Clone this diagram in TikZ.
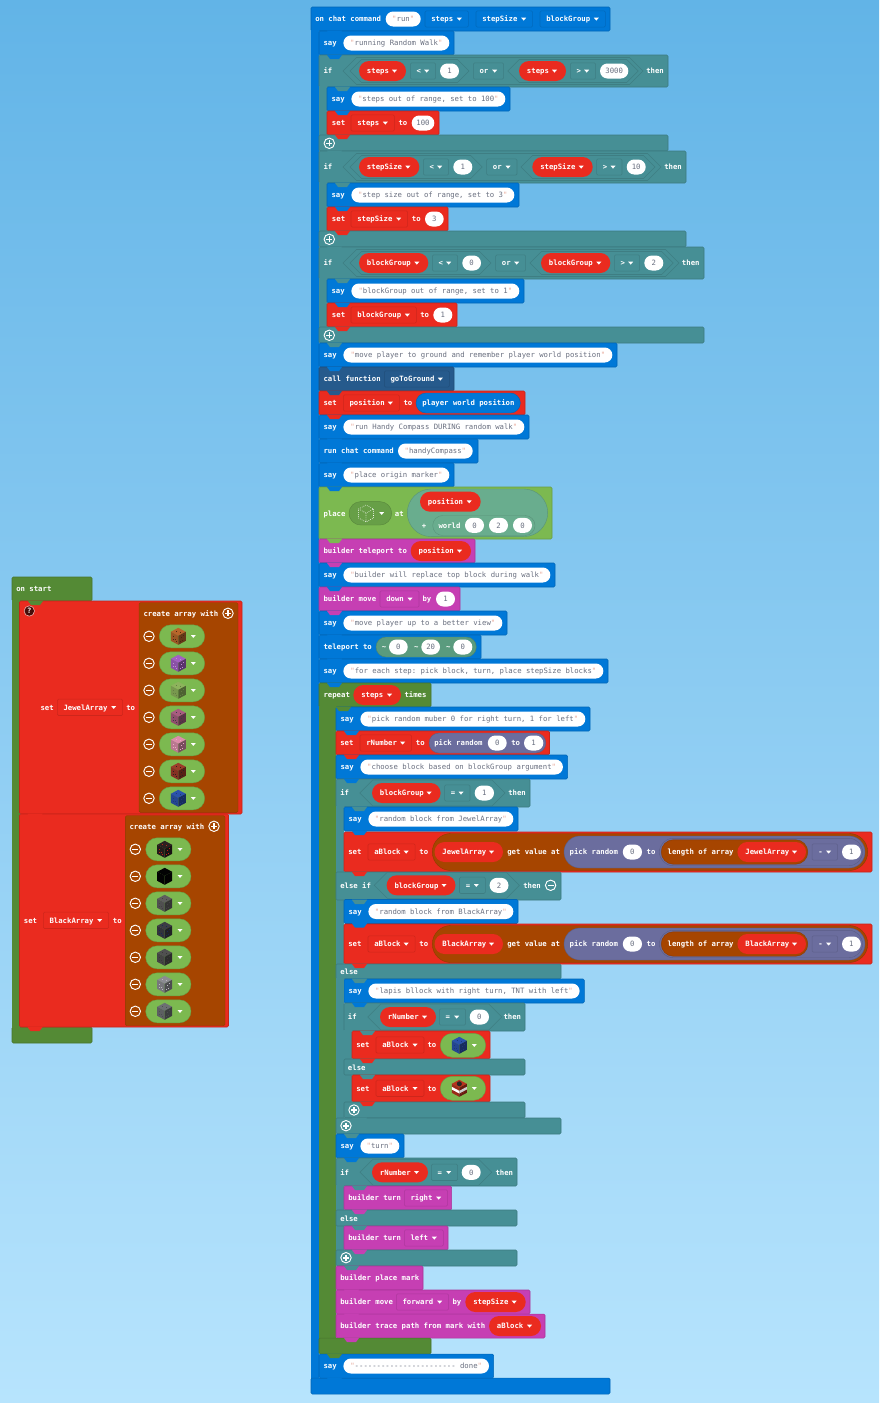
\documentclass[tikz,border=0pt]{standalone}
\usepackage{fontspec}
\setmonofont{DejaVu Sans Mono}
\pgfdeclarelayer{tabs}
\pgfsetlayers{main,tabs}
\definecolor{bgtop}{HTML}{62B4E7}
\definecolor{bgbot}{HTML}{B7E4FD}
\definecolor{cblue}{HTML}{0078D7}
\definecolor{cdark}{HTML}{265A8C}
\definecolor{cteal}{HTML}{468F95}
\definecolor{cred}{HTML}{EA2B1F}
\definecolor{cplace}{HTML}{7CB950}
\definecolor{cdice}{HTML}{679F47}
\definecolor{cgreen}{HTML}{548A35}
\definecolor{cbuild}{HTML}{C63FB3}
\definecolor{cbrown}{HTML}{A64500}
\definecolor{cpick}{HTML}{6B6D9E}
\definecolor{cadd}{HTML}{69AD8E}
\definecolor{cpos}{HTML}{5A9B7E}
\definecolor{cword}{HTML}{6A7080}
\definecolor{cquote}{HTML}{E8A898}
\definecolor{jA}{HTML}{B8652B}
\definecolor{jB}{HTML}{A35FC4}
\definecolor{jC}{HTML}{8DB35C}
\definecolor{jD}{HTML}{A85C80}
\definecolor{jE}{HTML}{DC8CAB}
\definecolor{jF}{HTML}{9C3B29}
\definecolor{jG}{HTML}{2A52AC}
\definecolor{bA}{HTML}{2B2020}
\definecolor{bB}{HTML}{030303}
\definecolor{bC}{HTML}{5E5E5E}
\definecolor{bD}{HTML}{3C3C44}
\definecolor{bE}{HTML}{505050}
\definecolor{bF}{HTML}{8C8C92}
\definecolor{bG}{HTML}{6C7072}
\definecolor{ctnt}{HTML}{B8331E}
\tikzset{
  lbl/.style={anchor=west,inner sep=0pt,text=white,text height=5.2pt,text depth=1pt,
    font=\ttfamily\bfseries\fontsize{5.47}{7}\selectfont},
  txt/.style={inner sep=0pt,text=cword,text height=5.2pt,text depth=1pt,
    font=\ttfamily\fontsize{5.47}{7}\selectfont}
}
\newcommand{\blk}[6][8]{%
  \filldraw[fill=#6,draw=#6!85!black,line width=.4pt,rounded corners=1pt] (#2,#3) rectangle (#4,#5);
  \begin{pgfonlayer}{tabs}
    \fill[#6] (#2+#1,#5-.5) -- (#2+#1,#5) -- ++(3,4) -- ++(9,0) -- ++(3,-4) -- ++(0,-.5) -- cycle;
  \end{pgfonlayer}}
\newcommand{\spine}[5]{\fill[#5] (#1,#3-.6) rectangle (#2,#4+.6);}
\newcommand{\pillb}[5]{%
  \filldraw[fill=#5,draw=#5!85!black,line width=.3pt,rounded corners=#4*.75pt] (#1,#3-#4) rectangle (#2,#3+#4);}
\newcommand{\arrowd}[2]{\fill[white] (#1-2.5,#2-1.3) -- (#1+2.5,#2-1.3) -- (#1,#2+1.6) -- cycle;}
\newcommand{\strp}[4]{%
  \fill[white,rounded corners=5.6pt] (#1,#3-7.5) rectangle (#2,#3+7.5);
  \node[txt] at ({(#1+#2)/2},#3) {{\color{cquote}"}#4{\color{cquote}"}};}
\newcommand{\nump}[4]{%
  \fill[white,rounded corners=5.6pt] (#1,#3-7.5) rectangle (#2,#3+7.5);
  \node[txt] at ({(#1+#2)/2},#3) {#4};}
\newcommand{\varp}[4]{%
  \fill[cred,rounded corners=7.5pt] (#1,#3-10) rectangle (#2,#3+10);
  \node[lbl] at (#1+7.7,#3) {#4};
  \arrowd{#2-11.5}{#3}}
\newcommand{\drop}[5]{%
  \filldraw[fill=#5,draw=#5!88!black,line width=.4pt,rounded corners=1pt] (#1,#3-8.2) rectangle (#2,#3+8.2);
  \node[lbl] at (#1+6,#3) {#4};
  \arrowd{#2-9}{#3}}
\newcommand{\hexa}[4]{%
  \filldraw[fill=cteal,draw=cteal!88!black,line width=.4pt] (#1,#3) -- (#1+#4,#3-#4) -- (#2-#4,#3-#4)
    -- (#2,#3) -- (#2-#4,#3+#4) -- (#1+#4,#3+#4) -- cycle;}
\newcommand{\plusc}[2]{%
  \draw[white,line width=.7pt] (#1,#2) circle (5.2);
  \draw[white,line width=1.2pt] (#1-3,#2) -- (#1+3,#2) (#1,#2-3) -- (#1,#2+3);}
\newcommand{\minusc}[2]{%
  \draw[white,line width=.7pt] (#1,#2) circle (5.2);
  \draw[white,line width=1.2pt] (#1-3,#2) -- (#1+3,#2);}
\newcommand{\cube}[4]{%
  \fill[#3] (#1,#2-8.5) -- (#1+7.5,#2-4.5) -- (#1,#2-.5) -- (#1-7.5,#2-4.5) -- cycle;
  \fill[#3!85!black] (#1-7.5,#2-4.5) -- (#1,#2-.5) -- (#1,#2+8.5) -- (#1-7.5,#2+4.5) -- cycle;
  \fill[#3!55!black] (#1+7.5,#2-4.5) -- (#1,#2-.5) -- (#1,#2+8.5) -- (#1+7.5,#2+4.5) -- cycle;
  \foreach \dx/\dy in {-2/-5,2/-4,-5/0,-3/3,-5/3,-2/5,3/1,5/-1,4/4,2/5}
    \fill[#4] (#1+\dx-.5,#2+\dy-.5) rectangle ++(1,1);}
\newcommand{\saybk}[4]{%
  \blk{#1}{#2}{#3}{#2+24}{cblue}
  \node[lbl] at (#1+4.3,#2+12) {say};
  \strp{#1+24.4}{#3-4.7}{#2+12}{#4}}
\newcommand{\aryset}[2]{%
  \blk{344}{#1}{872}{#1+40}{cred}
  \node[lbl] at (348,#1+20) {set};
  \drop{368}{415.2}{#1+20}{aBlock}{cred}
  \node[lbl] at (419.2,#1+20) {to};
  \pillb{432.3}{867.7}{#1+20}{18.5}{cbrown}
  \varp{434.5}{503}{#1+20}{#2}
  \node[lbl] at (507,#1+20) {get value at};
  \pillb{564}{865}{#1+20}{16}{cpick}
  \node[lbl] at (569.4,#1+20) {pick random};
  \nump{622.8}{642}{#1+20}{0}
  \node[lbl] at (646.4,#1+20) {to};
  \pillb{659.4}{862.6}{#1+20}{13.7}{cpick}
  \pillb{661.2}{807.8}{#1+20}{12.2}{cbrown}
  \node[lbl] at (667.4,#1+20) {length of array};
  \varp{737.4}{806}{#1+20}{#2}
  \drop{812.2}{837.6}{#1+20}{-}{cpick}
  \nump{842}{860.8}{#1+20}{1}}
\begin{document}
\begin{tikzpicture}[x=.75pt,y=-.75pt]
  \shade[top color=bgtop,bottom color=bgbot] (0,0) rectangle (879,1403);
  \useasboundingbox (0,0) rectangle (879,1403);

  % on start
  \blk[16]{12}{577}{92}{601}{cgreen}
  \node[lbl] at (16,589) {on start};
  \filldraw[fill=cgreen,draw=cgreen!85!black,line width=.4pt,rounded corners=1pt] (12,1027) rectangle (92,1043);
  \spine{12}{19.5}{601}{1027}{cgreen}
  \blk{19.5}{601}{242}{814}{cred}
  \filldraw[fill=cbrown,draw=cbrown!85!black,line width=.3pt,rounded corners=1pt] (139,602.7) rectangle (238,812.3);
  \filldraw[fill=black!70!cred,draw=white!70!cred,line width=.4pt] (29.3,611) circle (5.2);
  \node[lbl,anchor=center] at (29.3,611) {?};
  \node[lbl] at (40.3,707.3) {set};
  \drop{57.3}{122.7}{707.3}{JewelArray}{cred}
  \node[lbl] at (126,707.3) {to};
  \node[lbl] at (143.3,613.3) {create array with};
  \plusc{228}{613.3}
  \foreach \y/\c/\s in {636.3/jA/black!60!jA,663.3/jB/jB!70!white,690.3/jC/jC!70!black,717.3/jD/bD,
      744.3/jE/jE!70!white,771.3/jF/bA,798.3/jG/jG!70!black}{
    \minusc{149}{\y}
    \pillb{159.3}{204.7}{\y}{11.5}{cplace}
    \cube{178.3}{\y}{\c}{\s}
    \arrowd{193.3}{\y}
  }
  \blk{19.5}{814}{228.5}{1027}{cred}
  \filldraw[fill=cbrown,draw=cbrown!85!black,line width=.3pt,rounded corners=1pt] (125.3,815.7) rectangle (225,1025.7);
  \node[lbl] at (23.7,920.3) {set};
  \drop{43.3}{108.7}{920.3}{BlackArray}{cred}
  \node[lbl] at (112.7,920.3) {to};
  \node[lbl] at (129.3,826.3) {create array with};
  \plusc{214}{826.3}
  \foreach \y/\c/\s in {849.3/bA/cred!80!black,876.3/bB/bB,903.3/bC/bC!70!black,930.3/bD/jG!50!black,
      957.3/bE/bE!70!black,984.3/bF/bF!60!white,1011.3/bG/bG!70!black}{
    \minusc{135.3}{\y}
    \pillb{145.7}{191}{\y}{11.5}{cplace}
    \cube{164.7}{\y}{\c}{\s}
    \arrowd{180}{\y}
  }

  % on chat command
  \blk[16]{311}{7}{610}{31}{cblue}
  \spine{311}{319}{31}{1378}{cblue}
  \filldraw[fill=cblue,draw=cblue!85!black,line width=.4pt,rounded corners=1pt] (311,1378) rectangle (610,1394);
  \node[lbl] at (315,19) {on chat command};
  \strp{385.7}{420.7}{19}{run}
  \drop{425}{468.3}{19}{steps}{cblue}
  \drop{476}{532.7}{19}{stepSize}{cblue}
  \drop{540}{605.3}{19}{blockGroup}{cblue}
  \saybk{319}{31}{454}{running Random Walk}

  % range checks
  \blk[16]{319}{55}{668}{87}{cteal}
  \node[lbl] at (323.3,71) {if};
  \hexa{343}{643}{71}{13.5}
  \hexa{350}{469}{71}{11.5}
  \varp{359}{406}{71}{steps}
  \drop{410.3}{435.7}{71}{<}{cteal}
  \nump{440}{459}{71}{1}
  \drop{473.3}{503.7}{71}{or}{cteal}
  \hexa{507.7}{638.3}{71}{11.5}
  \varp{519}{566}{71}{steps}
  \drop{570.3}{595.7}{71}{>}{cteal}
  \nump{600}{628.3}{71}{3000}
  \node[lbl] at (646,71) {then};
  \spine{319}{327}{87}{135}{cteal}
  \saybk{327}{87}{510}{steps out of range, set to 100}
  \blk{327}{111}{439}{135}{cred}
  \node[lbl] at (331.7,123) {set};
  \drop{351}{394.3}{123}{steps}{cred}
  \node[lbl] at (398.3,123) {to};
  \nump{411.7}{434.3}{123}{100}
  \blk{319}{135}{668}{151}{cteal}
  \plusc{329.3}{143.3}

  \blk[16]{319}{151}{686}{183}{cteal}
  \node[lbl] at (323.3,167) {if};
  \hexa{343}{661}{167}{13.5}
  \hexa{350}{482.3}{167}{11.5}
  \varp{359}{419.3}{167}{stepSize}
  \drop{423.3}{448.7}{167}{<}{cteal}
  \nump{453.3}{472.3}{167}{1}
  \drop{486.7}{517}{167}{or}{cteal}
  \hexa{521}{655}{167}{11.5}
  \varp{532.3}{592.7}{167}{stepSize}
  \drop{596.7}{622}{167}{>}{cteal}
  \nump{626.7}{645.7}{167}{10}
  \node[lbl] at (664,167) {then};
  \spine{319}{327}{183}{231}{cteal}
  \saybk{327}{183}{519}{step size out of range, set to 3}
  \blk{327}{207}{448}{231}{cred}
  \node[lbl] at (331.7,219) {set};
  \drop{351}{407.7}{219}{stepSize}{cred}
  \node[lbl] at (411.7,219) {to};
  \nump{425}{443.7}{219}{3}
  \blk{319}{231}{686}{247}{cteal}
  \plusc{329.3}{239.3}

  \blk[16]{319}{247}{704}{279}{cteal}
  \node[lbl] at (323.3,263) {if};
  \hexa{343}{679}{263}{13.5}
  \hexa{350}{491}{263}{11.5}
  \varp{359}{428.3}{263}{blockGroup}
  \drop{432.3}{457.7}{263}{<}{cteal}
  \nump{462.3}{481}{263}{0}
  \drop{495.7}{525.7}{263}{or}{cteal}
  \hexa{530}{673.3}{263}{11.5}
  \varp{541}{610.3}{263}{blockGroup}
  \drop{614.3}{639.7}{263}{>}{cteal}
  \nump{644.3}{663.3}{263}{2}
  \node[lbl] at (681.7,263) {then};
  \spine{319}{327}{279}{327}{cteal}
  \saybk{327}{279}{524}{blockGroup out of range, set to 1}
  \blk{327}{303}{457}{327}{cred}
  \node[lbl] at (331.7,315) {set};
  \drop{351}{416.3}{315}{blockGroup}{cred}
  \node[lbl] at (420,315) {to};
  \nump{433.3}{452.3}{315}{1}
  \blk{319}{327}{704}{343}{cteal}
  \plusc{329.3}{335.3}

  % set up
  \saybk{319}{343}{617}{move player to ground and remember player world position}
  \blk{319}{367}{454}{391}{cdark}
  \node[lbl] at (323.3,379) {call function};
  \drop{384.3}{449.3}{379}{goToGround}{cdark}
  \blk{319}{391}{525}{415}{cred}
  \node[lbl] at (323.3,403) {set};
  \drop{343.3}{399.3}{403}{position}{cred}
  \node[lbl] at (403.3,403) {to};
  \pillb{416}{520.3}{403}{10}{cblue}
  \node[lbl] at (422,403) {player world position};
  \saybk{319}{415}{529}{run Handy Compass DURING random walk}
  \blk{319}{439}{478}{463}{cblue}
  \node[lbl] at (323.3,451) {run chat command};
  \strp{398}{472.7}{451}{handyCompass}
  \saybk{319}{463}{454}{place origin marker}
  \blk{319}{487}{552}{539}{cplace}
  \node[lbl] at (323.3,513.3) {place};
  \pillb{349}{391.7}{513.3}{11.7}{cdice}
  \draw[white,densely dotted,line width=.45pt] (358.5,509) -- (366,505) -- (373.5,509) -- (373.5,518) -- (366,522) -- (358.5,518) -- cycle
    (358.5,509) -- (366,513) -- (373.5,509) (366,513) -- (366,522);
  \arrowd{381.7}{513.3}
  \node[lbl] at (394.7,513.3) {at};
  \pillb{407.3}{547.7}{512.8}{23.8}{cadd}
  \varp{420}{480.7}{501.7}{position}
  \node[lbl] at (421.5,525.3) {+};
  \pillb{432.7}{535}{525.5}{10}{cadd}
  \node[lbl] at (438.3,525.3) {world};
  \nump{465}{484}{525.3}{0}
  \nump{489}{508}{525.3}{2}
  \nump{513}{532}{525.3}{0}
  \blk{319}{539}{475}{563}{cbuild}
  \node[lbl] at (323.3,551) {builder teleport to};
  \varp{410.7}{471}{551}{position}
  \saybk{319}{563}{555}{builder will replace top block during walk}
  \blk{319}{587}{460}{611}{cbuild}
  \node[lbl] at (323.3,599) {builder move};
  \drop{380}{419}{599}{down}{cbuild}
  \node[lbl] at (422.3,599) {by};
  \nump{436}{455}{599}{1}
  \saybk{319}{611}{507}{move player up to a better view}
  \blk{319}{635}{481}{659}{cblue}
  \node[lbl] at (323.3,647) {teleport to};
  \pillb{376}{476.3}{647}{10}{cpos}
  \node[lbl] at (381.5,647) {\textasciitilde};
  \nump{389}{407.7}{647}{0}
  \node[lbl] at (413.8,647) {\textasciitilde};
  \nump{421.3}{440}{647}{20}
  \node[lbl] at (445.8,647) {\textasciitilde};
  \nump{453.3}{472.3}{647}{0}
  \saybk{319}{659}{608}{for each step: pick block, turn, place stepSize blocks}

  % repeat
  \blk[17]{319}{683}{431}{707}{cgreen}
  \node[lbl] at (323.3,695) {repeat};
  \varp{353.3}{401}{695}{steps}
  \node[lbl] at (404.3,695) {times};
  \node[lbl] at (323.3,713) {do};
  \spine{319}{336}{707}{1338}{cgreen}
  \saybk{336}{707}{590}{pick random muber 0 for right turn, 1 for left}
  \blk{336}{731}{549.5}{755}{cred}
  \node[lbl] at (340,743) {set};
  \drop{360}{411.6}{743}{rNumber}{cred}
  \node[lbl] at (415.6,743) {to};
  \pillb{429}{545.8}{743}{10}{cpick}
  \node[lbl] at (434,743) {pick random};
  \nump{487.8}{506.7}{743}{0}
  \node[lbl] at (511,743) {to};
  \nump{524}{543.3}{743}{1}
  \saybk{336}{755}{567.6}{choose block based on blockGroup argument}

  % choose block
  \blk[16]{336}{779}{530}{807}{cteal}
  \node[lbl] at (340,793) {if};
  \hexa{359.7}{504.9}{793}{13}
  \varp{372}{440.6}{793}{blockGroup}
  \drop{444.6}{470}{793}{=}{cteal}
  \nump{474.7}{494}{793}{1}
  \node[lbl] at (508,793) {then};
  \spine{336}{344}{807}{979}{cteal}
  \saybk{344}{807}{518}{random block from JewelArray}
  \aryset{832}{JewelArray}
  \blk[16]{336}{872}{561}{900}{cteal}
  \node[lbl] at (340,885.3) {else if};
  \hexa{374.2}{519.4}{885.3}{13}
  \varp{386.6}{455.5}{885.3}{blockGroup}
  \drop{459.5}{485.3}{885.3}{=}{cteal}
  \nump{489.6}{508.5}{885.3}{2}
  \node[lbl] at (523,885.3) {then};
  \minusc{550.6}{885.3}
  \saybk{344}{899.5}{518}{random block from BlackArray}
  \aryset{924}{BlackArray}
  \blk[16]{336}{964}{561}{979}{cteal}
  \node[lbl] at (340,971.3) {else};
  \saybk{344}{979}{584.3}{lapis bllock with right turn, TNT with left}
  \spine{336}{344}{979}{1118}{cteal}

  \blk[16]{344}{1003}{525}{1031}{cteal}
  \node[lbl] at (347.7,1017) {if};
  \hexa{367.7}{501.7}{1017}{13}
  \varp{380}{436}{1017}{rNumber}
  \drop{439.3}{465.7}{1017}{=}{cteal}
  \nump{469.7}{489}{1017}{0}
  \node[lbl] at (503.3,1017) {then};
  \spine{344}{352}{1031}{1102}{cteal}
  \blk{352}{1031}{490}{1059}{cred}
  \node[lbl] at (356,1045) {set};
  \drop{376}{424}{1045}{aBlock}{cred}
  \node[lbl] at (427.3,1045) {to};
  \pillb{440.3}{485.7}{1045.3}{12}{cplace}
  \cube{459.3}{1045.3}{jG}{jG!70!black}
  \arrowd{474.3}{1045.3}
  \blk[16]{344}{1059}{525}{1075}{cteal}
  \node[lbl] at (347.7,1067.3) {else};
  \blk{352}{1075}{490}{1102}{cred}
  \node[lbl] at (356,1088.3) {set};
  \drop{376}{424}{1088.3}{aBlock}{cred}
  \node[lbl] at (427.3,1088.3) {to};
  \pillb{440.3}{485.7}{1088.3}{12}{cplace}
  \cube{459.3}{1088.3}{ctnt}{ctnt!75!black}
  \fill[white] (451.8,1086.8) -- (459.3,1090.8) -- (459.3,1093.5) -- (451.8,1089.5) -- cycle;
  \fill[white!80!black] (466.8,1086.8) -- (459.3,1090.8) -- (459.3,1093.5) -- (466.8,1089.5) -- cycle;
  \fill[black!85] (459.3,1083.8) circle (2.5);
  \arrowd{474.3}{1088.3}
  \blk{344}{1102}{525}{1118}{cteal}
  \plusc{354}{1110}
  \blk{336}{1118}{561}{1134}{cteal}
  \plusc{346}{1125.7}
  \saybk{336}{1134}{404}{turn}

  % turn
  \blk[16]{336}{1158}{517}{1186}{cteal}
  \node[lbl] at (340,1172.3) {if};
  \hexa{360}{491.7}{1172.3}{13}
  \varp{372}{428}{1172.3}{rNumber}
  \drop{431.3}{457.7}{1172.3}{=}{cteal}
  \nump{461.7}{480.7}{1172.3}{0}
  \node[lbl] at (495.3,1172.3) {then};
  \spine{336}{344}{1186}{1250}{cteal}
  \blk{344}{1186}{451.7}{1210}{cbuild}
  \node[lbl] at (348,1198) {builder turn};
  \drop{404.3}{447.7}{1198}{right}{cbuild}
  \blk[16]{336}{1210}{517}{1226}{cteal}
  \node[lbl] at (340,1218.3) {else};
  \blk{344}{1226}{448}{1250}{cbuild}
  \node[lbl] at (348,1238) {builder turn};
  \drop{404.3}{443.3}{1238}{left}{cbuild}
  \blk{336}{1250}{517}{1266}{cteal}
  \plusc{346}{1257.7}

  % walk
  \blk{336}{1266}{423}{1290}{cbuild}
  \node[lbl] at (340,1278) {builder place mark};
  \blk{336}{1290}{530}{1314}{cbuild}
  \node[lbl] at (340,1302) {builder move};
  \drop{396.3}{448.7}{1302}{forward}{cbuild}
  \node[lbl] at (452.3,1302) {by};
  \varp{465.3}{525.7}{1302}{stepSize}
  \blk{336}{1314}{545}{1338}{cbuild}
  \node[lbl] at (340,1326) {builder trace path from mark with};
  \varp{489}{541}{1326}{aBlock}
  \blk{319}{1338}{431}{1354}{cgreen}
  \saybk{319}{1354}{493.7}{----------------------- done}
\end{tikzpicture}
\end{document}
